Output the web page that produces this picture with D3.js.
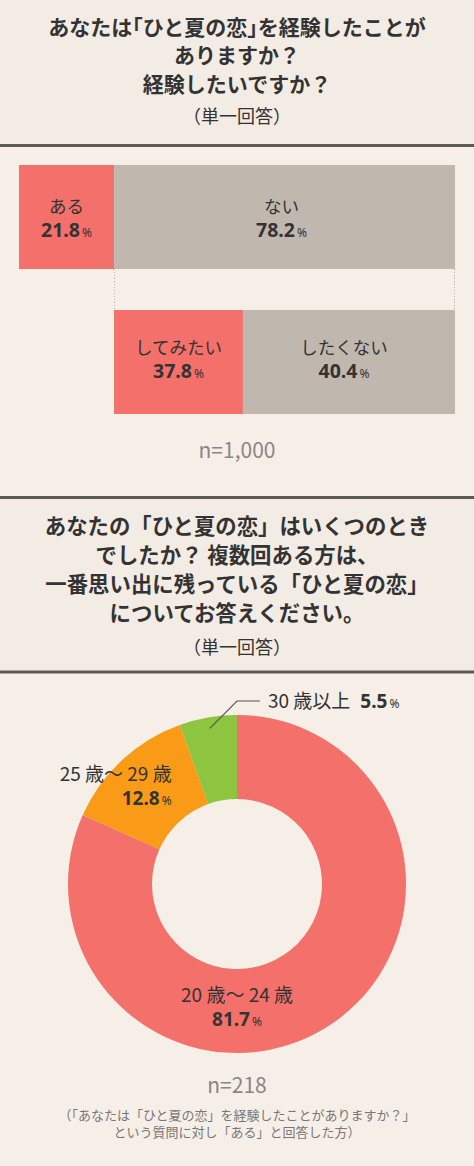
<!DOCTYPE html>
<html lang="ja">
<head>
<meta charset="utf-8">
<script src="https://cdn.jsdelivr.net/npm/d3@7"></script>
<style>
  html, body { margin: 0; padding: 0; background: #f6efe7; }
  svg { display: block; font-family: "Noto Sans CJK JP", "Noto Sans", sans-serif; }
  .halt { font-feature-settings: "halt"; }
  .num { font-family: "Noto Sans", "Noto Sans CJK JP", sans-serif; }
</style>
</head>
<body>
<svg id="chart" width="474" height="1166"></svg>
<script>
// ---- data ----
const q1Title = ["あなたは「ひと夏の恋」を経験したことが", "ありますか？", "経験したいですか？"];
const q2Title = ["あなたの「ひと夏の恋」はいくつのとき", "でしたか？ 複数回ある方は、", "一番思い出に残っている「ひと夏の恋」", "についてお答えください。"];
const answerType = "（単一回答）";
const expCategories = ["ある", "ない"];
const expValues = [21.8, 78.2];
const wishCategories = ["してみたい", "したくない"];
const wishValues = [37.8, 40.4];
const ageCategories = ["20 歳～ 24 歳", "25 歳～ 29 歳", "30 歳以上"];
const ageValues = [81.7, 12.8, 5.5];
const sample1 = "n=1,000";
const sample2 = "n=218";
const footnote = ["（「あなたは「ひと夏の恋」を経験したことがありますか？」", "という質問に対し「ある」と回答した方）"];

const W = 474, H = 1166;
const svg = d3.select("#chart");
const RED = "#f4706b", GRAY = "#c0b8af", ORANGE = "#f99b17", GREEN = "#8dc540";
const TXT = "#333";

// ---- backgrounds ----
svg.append("rect").attr("width", W).attr("height", H).attr("fill", "#f6efe7");
svg.append("rect").attr("x", 0).attr("y", 0).attr("width", W).attr("height", 144).attr("fill", "#f3ece4");
svg.append("rect").attr("x", 0).attr("y", 498).attr("width", W).attr("height", 173).attr("fill", "#f3ece4");
[145.5, 497.5, 672].forEach(y => {
  svg.append("line").attr("x1", 0).attr("x2", W).attr("y1", y).attr("y2", y)
    .attr("stroke", "#5c5a58").attr("stroke-width", 3);
});

// ---- titles ----
function title(lines, baselines, cls, size) {
  lines.forEach((t, i) => {
    svg.append("text").attr("class", cls).attr("x", W / 2).attr("y", baselines[i])
      .attr("text-anchor", "middle").attr("font-size", size).attr("font-weight", "bold")
      .attr("fill", TXT).text(t);
  });
}
title(q1Title, [35, 63, 92], "halt", 21);
svg.append("text").attr("x", W / 2).attr("y", 123).attr("text-anchor", "middle")
  .attr("font-size", 18).attr("fill", TXT).attr("class", "halt").text(answerType);
title(q2Title, [534, 563, 592, 621], "", 21.4);
svg.append("text").attr("x", W / 2).attr("y", 654).attr("text-anchor", "middle")
  .attr("font-size", 18).attr("fill", TXT).attr("class", "halt").text(answerType);

// two-line label (name + bold value + small %) as one text element
function twoLine(g, xx, y1, anchor, name, val, nameSize, numSize, gap) {
  const t = g.append("text").attr("x", xx).attr("y", y1).attr("text-anchor", anchor).attr("fill", TXT);
  t.append("tspan").attr("x", xx).attr("font-size", nameSize).text(name);
  t.append("tspan").attr("class", "num").attr("x", xx).attr("dy", gap).attr("font-size", numSize)
    .attr("font-weight", "bold").text(val.toFixed(1));
  t.append("tspan").attr("class", "num").attr("font-size", 12).attr("dx", 2).text("%");
  return t;
}

// ---- bar chart ----
const x = d3.scaleLinear().domain([0, 100]).range([19, 455]);
const bar1 = { y: 165, h: 104 };
const bar2 = { y: 310, h: 104 };
const x2 = d3.scaleLinear().domain([0, 100]).range([x(expValues[0]), x(100)]);

function stackSegs(vals, scale) {
  let acc = 0;
  return vals.map((v, i) => {
    const s = acc; acc += v;
    const e = (i === vals.length - 1) ? scale.domain()[1] : acc;
    return { i, v, x0: scale(s), x1: scale(e) };
  });
}
const gBar = svg.append("g");
stackSegs(expValues, x).forEach(d => {
  gBar.append("rect").attr("x", d.x0).attr("y", bar1.y).attr("width", d.x1 - d.x0)
    .attr("height", bar1.h).attr("fill", d.i === 0 ? RED : GRAY);
  twoLine(gBar, (d.x0 + d.x1) / 2 - (d.i === 0 ? 0 : 3), 213, "middle", expCategories[d.i], d.v, 17.5, 19.5, 24);
});
stackSegs(wishValues, x2).forEach(d => {
  gBar.append("rect").attr("x", d.x0).attr("y", bar2.y).attr("width", d.x1 - d.x0)
    .attr("height", bar2.h).attr("fill", d.i === 0 ? RED : GRAY);
  twoLine(gBar, (d.x0 + d.x1) / 2 - (d.i === 0 ? 0 : 5), 354, "middle", wishCategories[d.i], d.v, 17.5, 19.5, 24);
});
// dotted connectors
[x(expValues[0]) + 0.5, x(100) - 0.5].forEach(xx => {
  gBar.append("line").attr("x1", xx).attr("x2", xx).attr("y1", bar1.y + bar1.h).attr("y2", bar2.y)
    .attr("stroke", "#b9b3ad").attr("stroke-width", 1).attr("stroke-dasharray", "1,2");
});
svg.append("text").attr("x", W / 2).attr("y", 458).attr("text-anchor", "middle")
  .attr("font-size", 21).attr("fill", "#8a8683").text(sample1);

// ---- donut ----
const cx = 237, cy = 884, rOut = 169, rIn = 85;
const pie = d3.pie().sort(null).value(d => d).startAngle(0).endAngle(2 * Math.PI);
const arcs = pie(ageValues);
const arc = d3.arc().innerRadius(rIn).outerRadius(rOut);
const gPie = svg.append("g").attr("transform", `translate(${cx},${cy})`);
const colors = [RED, ORANGE, GREEN];
gPie.selectAll("path").data(arcs).join("path").attr("d", arc).attr("fill", (d, i) => colors[i]);

// 20-24 label at bottom of ring
const midR = (rIn + rOut) / 2;
twoLine(gPie, 0, midR - 9, "middle", ageCategories[0], ageValues[0], 19, 19, 24);

// 25-29 label near centroid
const c1 = arc.centroid(arcs[1]);
twoLine(gPie, c1[0] + 21, c1[1] - 10, "end", ageCategories[1], ageValues[1], 19, 19, 24);

// 30+ label with leader
const a2 = (arcs[2].startAngle + arcs[2].endAngle) / 2;
const p0 = [Math.sin(a2) * 158, -Math.cos(a2) * 158];
const p1 = [0, -rOut - 14];
const p2 = [23, -rOut - 14];
gPie.append("polyline").attr("points", [p0, p1, p2].map(p => p.join(",")).join(" "))
  .attr("fill", "none").attr("stroke", "#555").attr("stroke-width", 1.2);
const t30 = gPie.append("text").attr("x", p2[0] + 8).attr("y", p2[1] + 7).attr("fill", TXT);
t30.append("tspan").attr("font-size", 19).text(ageCategories[2]);
t30.append("tspan").attr("class", "num").attr("font-size", 19).attr("font-weight", "bold").attr("dx", 10).text(ageValues[2].toFixed(1));
t30.append("tspan").attr("class", "num").attr("font-size", 12).attr("dx", 2).text("%");

svg.append("text").attr("x", W / 2).attr("y", 1093).attr("text-anchor", "middle")
  .attr("font-size", 21).attr("fill", "#8a8683").text(sample2);
const fn = svg.append("text").attr("x", W / 2).attr("y", 1120).attr("text-anchor", "middle")
  .attr("font-size", 13).attr("fill", "#777");
footnote.forEach((t, i) => {
  fn.append("tspan").attr("x", W / 2).attr("dy", i === 0 ? 0 : 17).text(t);
});
</script>
</body>
</html>
